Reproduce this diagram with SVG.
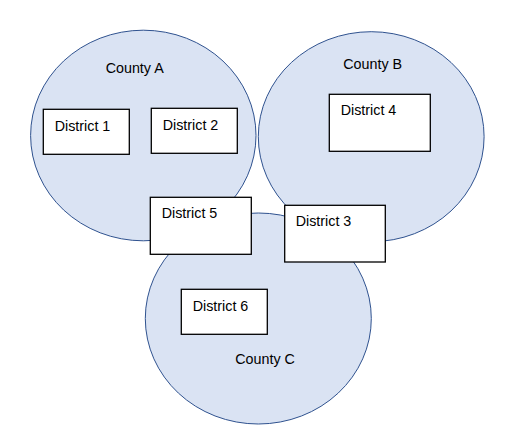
<svg xmlns="http://www.w3.org/2000/svg" width="508" height="439" viewBox="0 0 508 439">
<style>
.county{fill:#DAE3F3;stroke:#2F528F;stroke-width:1}
.box{fill:#FFFFFF;stroke:#000000;stroke-width:1.3}
text{font-family:"Liberation Sans",Arial,sans-serif;font-size:14.3px;fill:#000000}
</style>
<rect width="508" height="439" fill="#FFFFFF"/>
<g id="county-a"><ellipse class="county" cx="143.3" cy="135.5" rx="112.7" ry="105.3"/><text x="105.7" y="73.3">County A</text></g>
<g id="county-b"><ellipse class="county" cx="371.2" cy="136.7" rx="112.9" ry="105"/><text x="343.3" y="69">County B</text></g>
<g id="county-c"><ellipse class="county" cx="258.3" cy="318.5" rx="113" ry="105.5"/><text x="235.3" y="364">County C</text></g>
<g id="district-1"><rect class="box" x="43.3" y="109.3" width="86" height="45"/><text x="54.7" y="131">District 1</text></g>
<g id="district-2"><rect class="box" x="151.3" y="108.3" width="86" height="45"/><text x="162.7" y="130">District 2</text></g>
<g id="district-4"><rect class="box" x="329.3" y="94.3" width="101" height="57"/><text x="340.7" y="115">District 4</text></g>
<g id="district-5"><rect class="box" x="150.3" y="197.3" width="101" height="57"/><text x="161.7" y="217.7">District 5</text></g>
<g id="district-3"><rect class="box" x="284.7" y="205.3" width="100.6" height="56.7"/><text x="295.7" y="225.7">District 3</text></g>
<g id="district-6"><rect class="box" x="181.3" y="289.3" width="86" height="45"/><text x="192.7" y="310.7">District 6</text></g>
<g id="connectors"></g>
</svg>
